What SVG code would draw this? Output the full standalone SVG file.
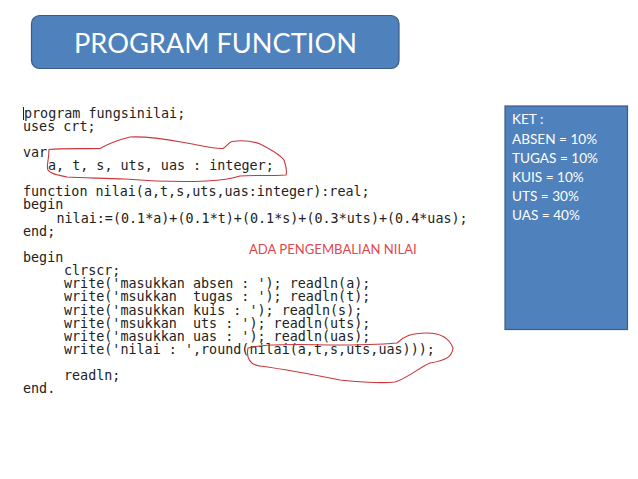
<svg xmlns="http://www.w3.org/2000/svg" width="638" height="479" viewBox="0 0 638 479">
<style>
.code{font-family:"DejaVu Sans Mono",monospace;font-size:13.4px;fill:#222;white-space:pre}
.ket{font-family:Lato,"Open Sans",sans-serif;font-size:13.6px;fill:#fff}
.box{fill:#4f81bd;stroke:#385d8a;stroke-width:1.2}
.sketch{fill:none;stroke:#c9353b;stroke-width:1.1}
</style>
<rect width="638" height="479" fill="#fff"/>
<g id="title">
<rect class="box" x="31.500" y="15.500" width="367.500" height="53" rx="8"/>
<text x="215.500" y="53" text-anchor="middle" font-family="Lato,'Open Sans',sans-serif" font-size="27.200" fill="#fff">PROGRAM FUNCTION</text>
</g>
<g id="code">
<path d="M23.500 107V120" stroke="#222" stroke-width="1" fill="none"/>
<text class="code" x="24" y="118">program fungsinilai;</text>
<text class="code" x="23" y="131">uses crt;</text>
<text class="code" x="23" y="157">var</text>
<text class="code" x="48" y="170">a, t, s, uts, uas : integer;</text>
<text class="code" x="23" y="196">function nilai(a,t,s,uts,uas:integer):real;</text>
<text class="code" x="23" y="209">begin</text>
<text class="code" x="56.500" y="223">nilai:=(0.1*a)+(0.1*t)+(0.1*s)+(0.3*uts)+(0.4*uas);</text>
<text class="code" x="23" y="236">end;</text>
<text class="code" x="23" y="262">begin</text>
<text class="code" x="64" y="275">clrscr;</text>
<text class="code" x="64" y="288">write('masukkan absen : '); readln(a);</text>
<text class="code" x="64" y="301">write('msukkan  tugas : '); readln(t);</text>
<text class="code" x="64" y="315">write('masukkan kuis : '); readln(s);</text>
<text class="code" x="64" y="328">write('msukkan  uts : '); readln(uts);</text>
<text class="code" x="64" y="341">write('masukkan uas : '); readln(uas);</text>
<text class="code" x="64" y="354">write('nilai : ',round(nilai(a,t,s,uts,uas)));</text>
<text class="code" x="64" y="380">readln;</text>
<text class="code" x="23" y="393">end.</text>
</g>
<g id="annotation">
<text x="249" y="254" font-family="Lato,'Open Sans',sans-serif" font-size="13.100" fill="#e0474c">ADA PENGEMBALIAN NILAI</text>
</g>
<g id="ket">
<rect class="box" x="505" y="106" width="122.500" height="223.500"/>
<text class="ket" x="512" y="124">KET :</text>
<text class="ket" x="512" y="144">ABSEN = 10%</text>
<text class="ket" x="512" y="163">TUGAS = 10%</text>
<text class="ket" x="512" y="182">KUIS = 10%</text>
<text class="ket" x="512" y="201">UTS = 30%</text>
<text class="ket" x="512" y="220">UAS = 40%</text>
</g>
<g id="connectors">
<path class="sketch" d="M49 149.500C65 148 85 149 100 148.500C108 144 122 139 130 137C150 136 170 140 187 143C200 145 212 149 223 148.500C227 146 229 142 232 141.500C242 140 252 141 260 144C272 150 281 156 284 160C286 166 287 172 286 175C270 176 250 175 240 176C234 178 228 180 207 181C185 182 150 181 125 179C100 178 80 178 67 177C58 175 50 174 48 170C46 166 49 160 49 149.500Z"/>
<path class="sketch" d="M248 348C262 344 290 344 330 345C360 345 385 344 397 343C403 337 410 333 427 333C442 333 450 340 453 348C452 356 448 360 430 363C420 367 408 378 395 382C380 384 360 382 340 380C315 375 290 370 260 366C250 365 246 358 248 348Z"/>
</g>
</svg>
